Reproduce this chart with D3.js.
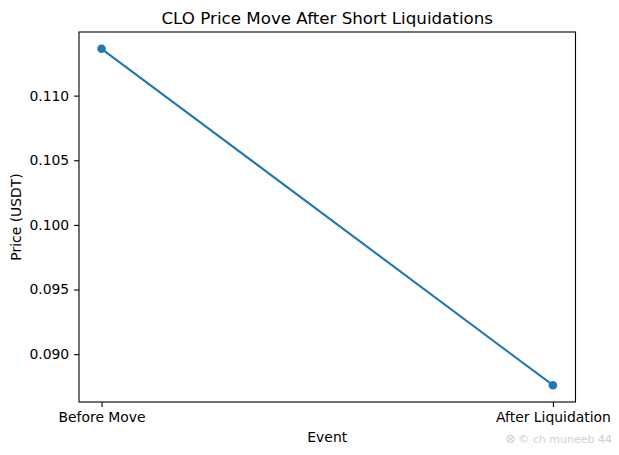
<!DOCTYPE html>
<html>
<head>
<meta charset="utf-8">
<script src="https://cdn.jsdelivr.net/npm/d3@7"></script>
<style>
  body { margin: 0; background: #fff; }
  text { font-family: "DejaVu Sans", sans-serif; fill: #000; }
</style>
</head>
<body>
<script>
var events = ["Before Move", "After Liquidation"];
var prices = [0.11362, 0.0876];
var yTicks = [0.090, 0.095, 0.100, 0.105, 0.110];

var screen = {width: 619, height: 455};
var margin = {top: 32, right: 43.5, bottom: 53, left: 79};
var width = screen.width - margin.left - margin.right,
    height = screen.height - margin.top - margin.bottom;

var data = events.map(function(e, i) { return {event: e, price: prices[i]}; });

var svg = d3.select("body")
            .append("svg")
            .attr("width", screen.width)
            .attr("height", screen.height);

var g = svg.append("g")
           .attr("transform", "translate(" + margin.left + "," + margin.top + ")");

var xScale = d3.scalePoint()
               .domain(events)
               .range([0, width])
               .padding(0.05);

var lo = d3.min(prices), hi = d3.max(prices);
var pad = (hi - lo) * 0.05;
var yScale = d3.scaleLinear()
               .domain([lo - pad, hi + pad])
               .range([height, 0]);

var xAxis = d3.axisBottom(xScale).tickSize(4.9).tickPadding(4.9);
var yAxis = d3.axisLeft(yScale).tickValues(yTicks).tickFormat(d3.format(".3f"))
              .tickSize(4.9).tickPadding(4.9);

var line = d3.line()
             .x(function(d) { return xScale(d.event); })
             .y(function(d) { return yScale(d.price); });

g.append("path")
 .datum(data)
 .attr("d", line)
 .attr("fill", "none")
 .attr("stroke", "#1f77b4")
 .attr("stroke-width", 2.1);

g.selectAll(".dot")
 .data(data)
 .enter().append("circle")
 .attr("class", "dot")
 .attr("cx", function(d) { return xScale(d.event); })
 .attr("cy", function(d) { return yScale(d.price); })
 .attr("r", 4.3)
 .attr("fill", "#1f77b4");

// frame
g.append("rect")
 .attr("width", width)
 .attr("height", height)
 .attr("fill", "none")
 .attr("stroke", "#000")
 .attr("stroke-width", 1.1);

var xg = g.append("g")
  .attr("transform", "translate(0," + height + ")")
  .call(xAxis);
var yg = g.append("g").call(yAxis);

[xg, yg].forEach(function(ax) {
  ax.select(".domain").remove();
  ax.selectAll("line").attr("stroke", "#000").attr("stroke-width", 1.1);
  ax.selectAll("text").style("font-size", "13.9px").style("font-family", "DejaVu Sans");
});

svg.append("text")
   .attr("x", margin.left + width / 2)
   .attr("y", 24)
   .attr("text-anchor", "middle")
   .style("font-size", "16.7px")
   .text("CLO Price Move After Short Liquidations");

svg.append("text")
   .attr("x", margin.left + width / 2)
   .attr("y", 442)
   .attr("text-anchor", "middle")
   .style("font-size", "13.9px")
   .text("Event");

svg.append("text")
   .attr("transform", "translate(21," + (margin.top + height / 2) + ") rotate(-90)")
   .attr("text-anchor", "middle")
   .style("font-size", "13.9px")
   .text("Price (USDT)");

// watermark
svg.append("text")
   .attr("x", 612)
   .attr("y", 443)
   .attr("text-anchor", "end")
   .style("font-size", "11px")
   .style("fill", "#cfcfcf")
   .text("\u2B59 \u00A9 ch muneeb 44");
</script>
</body>
</html>
